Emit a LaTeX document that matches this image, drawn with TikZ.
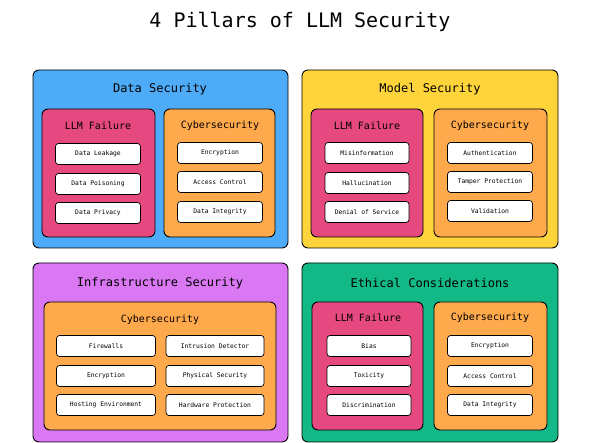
\documentclass[tikz,border=0pt]{standalone}
\usepackage{fontspec}
\setmainfont{DejaVu Sans Mono}
\begin{document}
\begin{tikzpicture}[x=1pt,y=-1pt,
  panel/.style={draw=black,line width=0.9pt,rounded corners=6pt},
  item/.style={draw=black,fill=white,line width=0.7pt,rounded corners=3pt,minimum height=21pt,inner sep=1pt,font=\fontsize{6.3}{7}\selectfont},
  ttl/.style={font=\fontsize{12}{14}\selectfont},
  sub/.style={font=\fontsize{10}{12}\selectfont}]
\useasboundingbox (0,0) rectangle (616,443);
\node[font=\fontsize{20}{24}\selectfont] (title) at (300,22) {4 Pillars of LLM Security};
\definecolor{cblue}{HTML}{4DABF7}
\definecolor{cyel}{HTML}{FFD43B}
\definecolor{cpur}{HTML}{DA77F2}
\definecolor{cgrn}{HTML}{12B886}
\definecolor{cpink}{HTML}{E64980}
\definecolor{corg}{HTML}{FFA94D}
% quadrant panels
\draw[panel,fill=cblue] (33,70) rectangle (288,248);
\draw[panel,fill=cyel] (302,70) rectangle (558,248);
\draw[panel,fill=cpur] (33,263) rectangle (288,442);
\draw[panel,fill=cgrn] (302,263) rectangle (558,442);
\node[ttl] (t1) at (160,89) {Data Security};
\node[ttl] (t2) at (430,89) {Model Security};
\node[ttl] (t3) at (160,283) {Infrastructure Security};
\node[ttl] (t4) at (430,283) {Ethical Considerations};
% Data Security
\draw[panel,fill=cpink] (42,109) rectangle (155,237);
\draw[panel,fill=corg] (164,109) rectangle (275,237);
\node[sub] (a1) at (98,126) {LLM Failure};
\node[sub] (a2) at (220,126) {Cybersecurity};
\node[item,minimum width=85pt] (a11) at (98,154) {Data Leakage};
\node[item,minimum width=85pt] (a12) at (98,184) {Data Poisoning};
\node[item,minimum width=85pt] (a13) at (98,213) {Data Privacy};
\node[item,minimum width=85pt] (a21) at (220,153) {Encryption};
\node[item,minimum width=85pt] (a22) at (220,182) {Access Control};
\node[item,minimum width=85pt] (a23) at (220,212) {Data Integrity};
% Model Security
\draw[panel,fill=cpink] (311,109) rectangle (423,237);
\draw[panel,fill=corg] (434,109) rectangle (547,237);
\node[sub] (b1) at (367,126) {LLM Failure};
\node[sub] (b2) at (490,126) {Cybersecurity};
\node[item,minimum width=84pt] (b11) at (367,153) {Misinformation};
\node[item,minimum width=84pt] (b12) at (367,183) {Hallucination};
\node[item,minimum width=84pt] (b13) at (367,212) {Denial of Service};
\node[item,minimum width=85pt] (b21) at (490,153) {Authentication};
\node[item,minimum width=85pt] (b22) at (490,182) {Tamper Protection};
\node[item,minimum width=85pt] (b23) at (490,211) {Validation};
% Infrastructure
\draw[panel,fill=corg] (44,302) rectangle (276,430);
\node[sub] (c1) at (160,320) {Cybersecurity};
\node[item,minimum width=99pt] (c11) at (106,346) {Firewalls};
\node[item,minimum width=99pt] (c12) at (106,376) {Encryption};
\node[item,minimum width=99pt] (c13) at (106,405) {Hosting Environment};
\node[item,minimum width=98pt] (c21) at (215,346) {Intrusion Detector};
\node[item,minimum width=98pt] (c22) at (215,376) {Physical Security};
\node[item,minimum width=98pt] (c23) at (215,405) {Hardware Protection};
% Ethical
\draw[panel,fill=cpink] (312,302) rectangle (423,430);
\draw[panel,fill=corg] (434,302) rectangle (547,430);
\node[sub] (d1) at (368,318) {LLM Failure};
\node[sub] (d2) at (490,318) {Cybersecurity};
\node[item,minimum width=84pt] (d11) at (369,346) {Bias};
\node[item,minimum width=84pt] (d12) at (369,376) {Toxicity};
\node[item,minimum width=84pt] (d13) at (369,405) {Discrimination};
\node[item,minimum width=85pt] (d21) at (490,346) {Encryption};
\node[item,minimum width=85pt] (d22) at (490,376) {Access Control};
\node[item,minimum width=85pt] (d23) at (490,405) {Data Integrity};
\end{tikzpicture}
\end{document}
